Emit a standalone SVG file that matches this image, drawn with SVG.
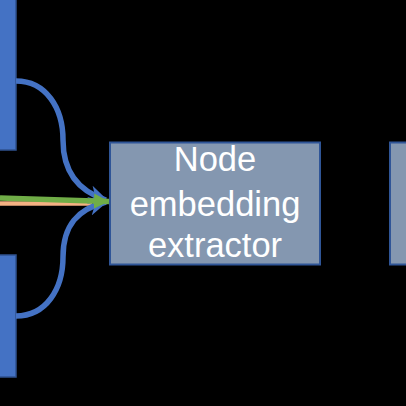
<svg xmlns="http://www.w3.org/2000/svg" width="406" height="406" viewBox="0 0 406 406">
<style>
.bar{fill:#4472c4;stroke:#2f528f;stroke-width:1.5}
.box{fill:#8497b0;stroke:#2f5597;stroke-width:2}
.lbl{font-family:"Liberation Sans",Arial,sans-serif;font-size:34.5px;fill:#ffffff;text-anchor:middle}
.curve{fill:none;stroke:#4472c4;stroke-width:5.5}
</style>
<defs>
<marker id="ab" viewBox="0 0 10 10" refX="9" refY="5" markerWidth="19" markerHeight="19" markerUnits="userSpaceOnUse" orient="auto">
<path d="M0,0 L10,5 L0,10 L3,5 z" fill="#4472c4"/>
</marker>
<marker id="ag" viewBox="0 0 10 10" refX="10" refY="5" markerWidth="15" markerHeight="19" markerUnits="userSpaceOnUse" orient="auto">
<path d="M0,0 L10,5 L0,10 z" fill="#70ad47"/>
</marker>
</defs>
<rect width="406" height="406" fill="#000000"/>
<g id="input-top"><rect class="bar" x="-2" y="-2" width="18" height="152"/></g>
<g id="input-bottom"><rect class="bar" x="-2" y="255" width="18" height="122"/></g>
<g id="connectors">
<line x1="0" y1="203.5" x2="92" y2="203.5" stroke="#f4b183" stroke-width="4.5"/>
<path d="M16,81 C46,81 63,108 63,140 C63,172 78,191 106,200" class="curve" marker-end="url(#ab)"/>
<path d="M16,316 C46,316 63,289 63,257 C63,225 78,209 106,202" class="curve" marker-end="url(#ab)"/>
<line x1="0" y1="198" x2="109" y2="201.5" stroke="#70ad47" stroke-width="5.5" marker-end="url(#ag)"/>
</g>
<g id="node-embedding-extractor">
<rect class="box" x="110" y="142.5" width="210" height="122"/>
<text class="lbl" x="215" y="171">Node</text>
<text class="lbl" x="215" y="215.5">embedding</text>
<text class="lbl" x="215" y="257">extractor</text>
</g>
<g id="next-node"><rect class="box" x="390" y="142.5" width="30" height="122"/></g>
</svg>
